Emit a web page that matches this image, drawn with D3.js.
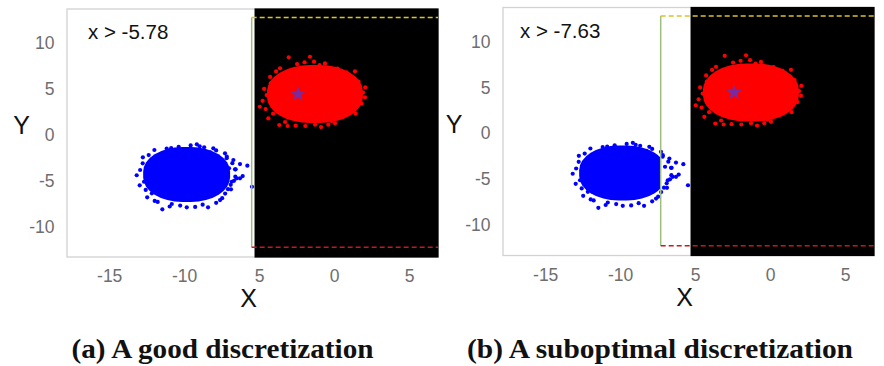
<!DOCTYPE html>
<html lang="en">
<head>
<meta charset="UTF-8">
<title>Discretization</title>
<script src="https://d3js.org/d3.v7.min.js"></script>
<style>
  body { margin: 0; background: #fff; }
  svg text { font-family: "Liberation Sans", Arial, sans-serif; }
  svg text.caption { font-family: "Liberation Serif", "Times New Roman", serif; font-weight: bold; }
</style>
</head>
<body>
<script>
// axis ticks (the -5 tick only shows "5" in the figure)
const xTicks = [-15, -10, -5, 0, 5];
const xTickLabels = ["-15", "-10", "5", "0", "5"];
const yTicks = [10, 5, 0, -5, -10];
const yTickLabels = ["10", "5", "0", "-5", "-10"];

// one entry per panel
const splitX = [-5.53, -7.33];
const splitLabels = ["x > -5.78", "x > -7.63"];
const captions = ["(a) A good discretization", "(b) A suboptimal discretization"];

// shaded region and the two dashed bounds
const regionStart = -5.34;
const upperBound = 12.78;
const lowerBound = -12.24;

// dense cluster cores: [cx, cy, rx, ry]
const blueCore = [-9.87, -4.32, 2.9, 2.99];
const redCore = [-1.31, 4.44, 3.2, 3.16];

// scattered points around the cores
const blueX = [-12.79, -12.97, -12.71, -11.49, -9.86, -8.44, -9.19, -12.02, -7.19, -6.31, -5.82, -6.62, -6.13, -6.91, -5.51, -7.64, -10.86, -12.19, -8.09,
  -7.31, -6.75, -6.64, -6.53, -6.86, -7.20, -6.82, -6.60, -7.04, -6.31, -6.71, -6.93, -7.11,
  -11.2, -10.4, -9.6, -8.7, -7.9, -12.0, -11.0, -10.3, -9.3, -8.8, -7.9, -13.2, -13.0, -12.8, -12.6,
  -12.4, -12.5, -11.8, -7.5, -7.3, -8.3, -10.9, -9.0];
const blueY = [-2.45, -3.83, -5.11, -8.11, -7.89, -7.89, -1.03, -1.65, -2.38, -3.18, -3.36, -4.56, -4.49, -5.93, -5.65, -7.10, -7.53, -6.37, -1.47,
  -2.01, -2.74, -3.76, -4.74, -5.11, -2.55, -3.09, -3.75, -3.64, -4.73, -5.01, -5.44, -5.92,
  -1.5, -1.3, -1.15, -1.35, -1.7, -7.2, -7.8, -7.7, -7.85, -7.6, -7.4, -4.4, -5.5, -3.1, -6.0,
  -2.2, -6.8, -7.3, -6.9, -6.4, -1.9, -1.45, -1.25];
const redX = [-3.06, -1.64, -1.37, 1.36, 2.05, 2.03, -4.99, -4.42, -3.69, -3.13, -1.95, -0.42, 0.03, -4.53, -4.26, -0.64, 1.58, 1.03, -3.64,
  -2.5, -2.0, -1.0, 0.2, 0.8, 1.6, 1.8, 1.4, -4.7, -4.8, -4.1, -2.6, -1.3, -0.9,
  -3.9, -4.3, 0.9, 1.9, -0.2, -3.3, -4.6];
const redY = [8.44, 8.50, 7.96, 6.91, 5.17, 4.08, 3.06, 1.80, 1.07, 0.96, 0.96, 1.10, 1.25, 4.33, 5.61, 7.78, 4.69, 2.70, 7.24,
  7.7, 7.9, 7.6, 7.2, 6.8, 5.8, 3.4, 2.3, 5.0, 3.7, 2.3, 1.0, 1.1, 0.85,
  6.9, 6.3, 6.1, 4.6, 1.5, 1.4, 2.8];
const centroid = [-2.44, 4.44];

const W = 884, H = 366;
const pw = 371, ph = 248;
const panelPos = [{ left: 67, top: 9 }, { left: 503, top: 7.5 }];
const captionPos = [{ x: 222.5, w: 302 }, { x: 660, w: 386 }];

const svg = d3.select("body").append("svg")
  .attr("width", W).attr("height", H);

const x = d3.scaleLinear().domain([-17.85, 6.9]).range([0, pw]);
const y = d3.scaleLinear().domain([-13.3, 13.7]).range([ph, 0]);

const blue = blueX.map((v, i) => [v, blueY[i]]);
const red = redX.map((v, i) => [v, redY[i]]);

function drawCore(g, core, color) {
  const w = x(core[0] + core[2]) - x(core[0] - core[2]);
  const h = y(core[1] - core[3]) - y(core[1] + core[3]);
  g.append("rect")
    .attr("x", x(core[0] - core[2]))
    .attr("y", y(core[1] + core[3]))
    .attr("width", w).attr("height", h)
    .attr("rx", w / 2 * 0.9).attr("ry", h / 2 * 0.9)
    .attr("fill", color);
}

panelPos.forEach((p, k) => {
  const g = svg.append("g").attr("transform", `translate(${p.left},${p.top})`);

  // plot frame
  g.append("rect")
    .attr("width", pw).attr("height", ph)
    .attr("fill", "#fff").attr("stroke", "#d2d2d2").attr("stroke-width", 1.3);

  // shaded region
  g.append("rect")
    .attr("x", x(regionStart)).attr("y", -0.6)
    .attr("width", pw - x(regionStart) + 0.6).attr("height", ph + 1.2)
    .attr("fill", "#000");

  // blue core is cut at the split line
  const clipId = "cut" + k;
  g.append("clipPath").attr("id", clipId)
    .append("rect").attr("x", 0).attr("y", 0)
    .attr("width", x(splitX[k])).attr("height", ph);
  drawCore(g.append("g").attr("clip-path", `url(#${clipId})`), blueCore, "#0000ff");

  g.append("g").selectAll("circle").data(blue).join("circle")
    .attr("cx", d => x(d[0])).attr("cy", d => y(d[1]))
    .attr("r", 2.1).attr("fill", "#0000ff");

  drawCore(g, redCore, "#ff0000");
  g.append("g").selectAll("circle").data(red).join("circle")
    .attr("cx", d => x(d[0])).attr("cy", d => y(d[1]))
    .attr("r", 2.1).attr("fill", "#ff0000");

  g.append("path")
    .attr("d", d3.symbol(d3.symbolStar, 75)())
    .attr("transform", `translate(${x(centroid[0])},${y(centroid[1])})`)
    .attr("fill", "#7a2a9e");

  // split line and bounds
  g.append("line")
    .attr("x1", x(splitX[k])).attr("x2", x(splitX[k]))
    .attr("y1", y(upperBound)).attr("y2", y(lowerBound))
    .attr("stroke", "#9dbf7c").attr("stroke-width", 1.5);
  g.append("line")
    .attr("x1", x(splitX[k])).attr("x2", pw)
    .attr("y1", y(upperBound)).attr("y2", y(upperBound))
    .attr("stroke", "#d9c52a").attr("stroke-width", 1.4)
    .attr("stroke-dasharray", "5,3");
  g.append("line")
    .attr("x1", x(splitX[k])).attr("x2", pw)
    .attr("y1", y(lowerBound)).attr("y2", y(lowerBound))
    .attr("stroke", "#c8171c").attr("stroke-width", 1.4)
    .attr("stroke-dasharray", "5,3");

  // rule text
  g.append("text")
    .attr("x", k === 0 ? 21 : 17).attr("y", 30)
    .attr("font-size", 20.5).attr("fill", "#111")
    .text(splitLabels[k]);

  // tick labels
  g.append("g").selectAll("text").data(xTicks).join("text")
    .attr("x", d => x(d)).attr("y", ph + 25)
    .attr("text-anchor", "middle").attr("font-size", 17.5).attr("fill", "#6e6e6e")
    .text((d, i) => xTickLabels[i]);
  g.append("g").selectAll("text").data(yTicks).join("text")
    .attr("x", -12.5).attr("y", d => y(d)).attr("dy", "0.35em")
    .attr("text-anchor", "end").attr("font-size", 17.5).attr("fill", "#6e6e6e")
    .text((d, i) => yTickLabels[i]);

  // axis titles
  g.append("text")
    .attr("x", pw / 2 - 4).attr("y", 298)
    .attr("text-anchor", "middle").attr("font-size", 25).attr("fill", "#111")
    .text("X");
  g.append("text")
    .attr("x", k === 0 ? -45.3 : -49).attr("y", 125)
    .attr("text-anchor", "middle").attr("font-size", 25).attr("fill", "#111")
    .text("Y");
});

// captions
captions.forEach((c, k) => {
  svg.append("text")
    .attr("class", "caption")
    .attr("x", captionPos[k].x).attr("y", 358)
    .attr("text-anchor", "middle")
    .attr("font-size", 27).attr("fill", "#111")
    .attr("textLength", captionPos[k].w)
    .attr("lengthAdjust", "spacingAndGlyphs")
    .text(c);
});
</script>
</body>
</html>
